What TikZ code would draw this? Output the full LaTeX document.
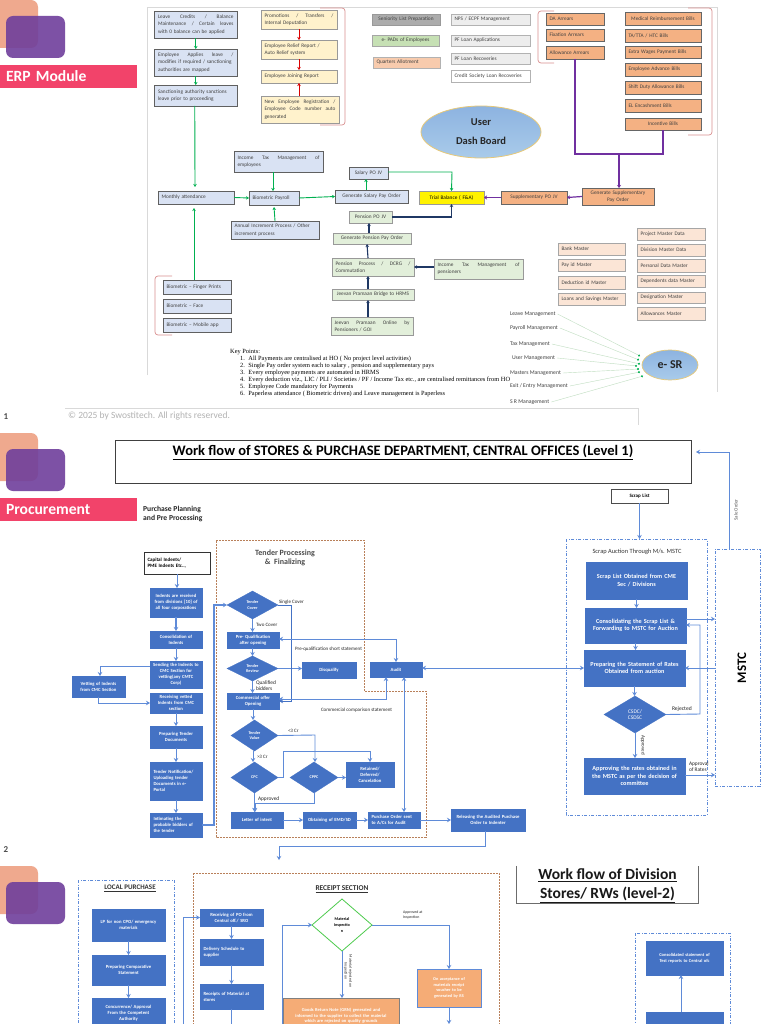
\documentclass[tikz,border=0pt]{standalone}
\usepackage{fontspec}
\setmainfont{Carlito}
\newfontfamily\keyfont{Liberation Serif}
\usetikzlibrary{arrows.meta,shapes.geometric,calc}
\hyphenpenalty=10000
\exhyphenpenalty=10000
\tolerance=9999
\emergencystretch=3em
\hbadness=10000
\hfuzz=40pt
\definecolor{pblue}{HTML}{D9E2F3}
\definecolor{pyel}{HTML}{FFF2CC}
\definecolor{porg}{HTML}{F4B183}
\definecolor{ppeach}{HTML}{F8CBAD}
\definecolor{plpeach}{HTML}{FBE5D6}
\definecolor{pgrn}{HTML}{E2EFDA}
\definecolor{pgrn2}{HTML}{C6E0B4}
\definecolor{pgrey}{HTML}{EDEDED}
\definecolor{fblue}{HTML}{4472C4}
\definecolor{lblue}{HTML}{5F8BD8}
\definecolor{gline}{HTML}{00B050}
\definecolor{pline}{HTML}{7030A0}
\definecolor{nline}{HTML}{1F3864}
\definecolor{brack}{HTML}{D98F8F}
\definecolor{brown}{HTML}{B9805A}
\definecolor{rbar}{HTML}{F2436A}
\definecolor{salm}{HTML}{EFA98E}
\definecolor{purp}{HTML}{6F3F9C}
\definecolor{txt}{HTML}{404040}
\definecolor{elltop}{HTML}{8DB3E0}
\definecolor{ellbot}{HTML}{A9CBEA}
\definecolor{ellbd}{HTML}{E6C878}
\definecolor{esrl}{HTML}{BFDDC0}
\tikzset{
  base/.style={draw,rectangle,inner sep=0pt,outer sep=0pt,font=\fontsize{5.3}{7.2}\selectfont,text=txt,line width=0.9pt},
  pb/.style={base,draw=gray!75!black,fill=pblue},
  py/.style={base,draw=gray!80,fill=pyel},
  po/.style={base,draw=gray!80!black,fill=porg},
  pp/.style={base,draw=gray!70,fill=plpeach},
  pg/.style={base,draw=gray!80,fill=pgrn},
  pe/.style={base,draw=gray!60,fill=pgrey},
  fb/.style={draw=fblue,fill=fblue,rectangle,inner sep=0pt,outer sep=0pt,font=\fontsize{4.7}{5.9}\selectfont\bfseries,text=white,line width=0.3pt,align=center},
  fbs/.style={fb,font=\fontsize{6.2}{7.6}\selectfont\bfseries},
  fd/.style={diamond,draw=fblue,fill=fblue,inner sep=0pt,outer sep=0pt,line width=0.3pt},
  wb/.style={rectangle,draw=black!80,fill=white,inner sep=0pt,outer sep=0pt,line width=0.8pt,font=\fontsize{5}{6.5}\selectfont\bfseries},
  gar/.style={draw=gline,line width=0.9pt,-{Stealth[length=3pt,width=3.5pt]}},
  par/.style={draw=pline,line width=1.2pt},
  nar/.style={draw=nline,line width=1.1pt,-{Stealth[length=3pt,width=3.5pt]}},
  rar/.style={draw=red!85!black,line width=0.9pt,-{Stealth[length=3pt,width=3.5pt]}},
  bar/.style={draw=lblue,line width=0.9pt,-{Stealth[length=4pt,width=4.5pt]}},
  bdbl/.style={draw=lblue,line width=0.9pt,{Stealth[length=4pt,width=4.5pt]}-{Stealth[length=4pt,width=4.5pt]}},
  bln/.style={draw=lblue,line width=0.9pt},
  brk/.style={draw=brack,line width=0.7pt,rounded corners=3pt},
  esr/.style={draw=esrl,line width=0.4pt,-{Circle[length=2pt,width=2pt,fill=gline,color=gline]}},
  dashbrown/.style={draw=brown,dashed,dash pattern=on 2pt off 1pt,line width=0.7pt},
  dashblue/.style={draw=lblue,dashed,dash pattern=on 3pt off 1.5pt on 1pt off 1.5pt,line width=0.6pt},
  lab/.style={inner sep=0pt,outer sep=0pt,font=\fontsize{5}{5.6}\selectfont,text=black!85},
  esl/.style={inner sep=0pt,outer sep=0pt,font=\fontsize{5.7}{6}\selectfont,text=txt,anchor=west},
  tl/.style={inner sep=0pt,outer sep=0pt,text=black!85},
  band/.style={rectangle,fill=rbar,inner sep=0pt,outer sep=0pt,text=white,anchor=west,font=\fontsize{15.6}{18}\selectfont\bfseries},
  ell/.style={ellipse,draw=ellbd,line width=0.8pt,top color=elltop,bottom color=ellbot,inner sep=0pt,text=black!85},
}
\newcommand\bx[7]{%
  \pgfmathsetmacro\tw{#5-#3-7}%
  \node (#1) [#2,minimum width={#5-#3},minimum height={#6-#4},text width=\tw pt] at ({(#3+#5)/2},{(#4+#6)/2}) {#7};}
\newcommand\dm[7]{%
  \node (#1) [fd,#2,minimum width={#5-#3},minimum height={#6-#4},label={[inner sep=0pt,align=center,font=\fontsize{4.2}{5.4}\selectfont\bfseries,text=white]center:#7}] at ({(#3+#5)/2},{(#4+#6)/2}) {};}
\newcommand\logo[1]{%
  \fill[salm,rounded corners=7pt] (-8,#1) rectangle (38,{#1+48});
  \fill[purp,opacity=0.9,rounded corners=7pt] (6,{#1+16}) rectangle (65,{#1+58});}
\begin{document}
\begin{tikzpicture}[x=1pt,y=-1pt]
\useasboundingbox (0,0) rectangle (768,1024);
\clip (0,0) rectangle (768,1024);
\fill[white] (0,0) rectangle (768,1024);

% ---------- panel 1 frame
\draw[gray!30,line width=0.8pt] (147,375) -- (147,7) -- (717,7) -- (717,392);
\draw[gray!30,line width=0.8pt] (65,408) -- (638,408) -- (638,425);
\logo{0}
\node[band,minimum width=137,minimum height=23,text width=132,align=left] (erp) at (0,76.5) {\hspace{3.5pt}ERP Module};
\node[inner sep=0pt,font=\fontsize{9}{10}\selectfont\bfseries,text=black!70] (n1) at (6,417) {1};
\node[inner sep=0pt,anchor=west,font=\fontsize{9.5}{10}\selectfont,text=gray!60] (copy) at (68,416) {© 2025 by Swostitech. All rights reserved.};

% left column
\bx{leave}{pb,align=left}{154.5}{11}{237}{38}{Leave\hfill Credits\hfill /\hfill Balance\\Maintenance\hfill /\hfill Certain\hfill leaves\\with 0 balance can be applied}
\bx{apply}{pb,align=left}{154.5}{49}{237}{76}{Employee\hfill Applies\hfill leave\hfill /\\modifies if required / sanctioning\\authorities are mapped}
\bx{sanct}{pb,align=left}{154.5}{85}{237}{106}{Sanctioning authority sanctions\\leave prior to proceeding}
\bx{month}{pb,align=left}{158}{191}{234}{204}{Monthly attendance}
\bx{bio}{pb,align=left}{249}{191}{299}{205}{Biometric Payroll}
\bx{itax}{pb,align=left}{234}{151}{323}{172}{Income\hfill Tax\hfill Management\hfill of\\employees}
\bx{gensal}{pb,align=center}{335}{190}{408}{203}{Generate Salary Pay Order}
\bx{salpo}{pb,align=center}{349}{167}{388}{179}{Salary PO JV}
\bx{annual}{pb,align=left}{231}{221}{319}{239}{Annual Increment Process / Other\\increment process}
\bx{finger}{pb,align=left}{163}{280}{231}{294}{Biometric -- Finger Prints}
\bx{face}{pb,align=left}{163}{299}{231}{313}{Biometric -- Face}
\bx{mobile}{pb,align=left}{163}{318}{231}{332}{Biometric -- Mobile app}
% promotions
\bx{promo}{py,align=left}{261}{10}{337}{29}{Promotions\hfill /\hfill Transfers\hfill /\\Internal Deputation}
\bx{relief}{py,align=left}{261}{40}{337}{59}{Employee Relief Report /\\Auto Relief system}
\bx{join}{py,align=left}{261}{70}{337}{83}{Employee Joining Report}
\bx{newemp}{py,align=left}{261}{96}{339}{123}{New\hfill Employee\hfill Registration\hfill /\\Employee\hfill Code\hfill number\hfill auto\\generated}
% status
\bx{senior}{base,draw=gray!80,fill=gray!65,align=center}{372}{14}{440}{25}{Seniority List Preparation}
\bx{epad}{base,draw=gray!70,fill=pgrn2,align=center}{372}{35}{439}{46}{e- PADs of Employees}
\bx{quart}{base,draw=gray!60,fill=ppeach,align=left}{373}{57}{440}{68}{Quarters Allotment}
\bx{nps}{pe,align=left}{451}{14}{530}{25}{NPS / ECPF Management}
\bx{pfa}{pe,align=left}{451}{35}{530}{46}{PF Loan Applications}
\bx{pfr}{pe,align=left}{451}{53}{530}{64}{PF Loan Recoveries}
\bx{cred}{pe,fill=white,align=left}{451}{70}{530}{82}{Credit Society Loan Recoveries}
% arrears
\bx{da}{po,align=left}{546}{13}{604}{25}{DA Arrears}
\bx{fix}{po,align=left}{546}{29}{604}{41}{Fixation Arrears}
\bx{allow}{po,align=left}{546}{46}{604}{59}{Allowance Arrears}
\bx{med}{po,align=center}{625}{12}{701}{25}{Medical Reimbursement Bills}
\bx{ta}{po,align=left}{625}{29}{701}{42}{TA/TTA / HTC Bills}
\bx{extra}{po,align=left}{625}{46}{701}{58}{Extra Wages Payment Bills}
\bx{adv}{po,align=left}{625}{63}{701}{76}{Employee Advance Bills}
\bx{shift}{po,align=left}{625}{81}{701}{94}{Shift Duty Allowance Bills}
\bx{el}{po,align=left}{625}{99}{701}{112}{EL Encashment Bills}
\bx{inc}{po,align=center}{625}{118}{701}{130}{Incentive Bills}
% dashboard
\node (dash) [ell,minimum width=120,minimum height=52,align=center,font=\fontsize{10.5}{19}\selectfont\bfseries] at (481,132) {User\\Dash Board};
% payment line
\bx{trial}{base,draw=gray!80,fill=yellow,align=center,text=black}{419}{191}{484}{204}{Trial Balance ( F\&A)}
\bx{suppo}{po,align=center}{501}{191}{567}{204}{Supplementary PO JV}
\bx{genpay}{po,align=center}{582}{188}{654}{205}{Generate Supplementary\\Pay Order}
% pension
\bx{penpo}{pg,align=center}{349}{211}{392}{223}{Pension PO JV}
\bx{genpen}{pg,align=center}{333}{233}{411}{244}{Generate Pension Pay Order}
\bx{penpro}{pg,align=left}{332}{258}{414}{276}{Pension\hfill Process\hfill /\hfill DCRG\hfill /\\Commutation}
\bx{jbridge}{pg,align=center}{332}{289}{414}{300}{Jeevan Pramaan Bridge to HRMS}
\bx{jonline}{pg,align=left}{331}{317}{413}{335}{Jeevan\hfill Pramaan\hfill Online\hfill by\\Pensioners / GOI}
\bx{itpen}{pg,align=left}{434}{259}{523}{279}{Income\hfill Tax\hfill Management\hfill of\\pensioners}
% masters
\bx{bank}{pp,align=left}{558}{243}{625}{255}{Bank Master}
\bx{payid}{pp,align=left}{558}{259}{625}{271}{Pay id Master}
\bx{deduct}{pp,align=left}{558}{276}{625}{289}{Deduction id Master}
\bx{loans}{pp,align=left}{558}{293}{625}{305}{Loans and Savings Master}
\bx{proj}{pp,align=left}{637}{228}{705}{240}{Project Master Data}
\bx{divm}{pp,align=left}{637}{244}{705}{256}{Division Master Data}
\bx{pers}{pp,align=left}{637}{259}{705}{272}{Personal Data Master}
\bx{dep}{pp,align=left}{637}{275}{705}{287}{Dependents data Master}
\bx{desig}{pp,align=left}{637}{292}{705}{303}{Designation Master}
\bx{allm}{pp,align=left}{637}{307}{705}{320}{Allowances Master}
% e-SR
\node (esr) [ell,line width=0.7pt,minimum width=56,minimum height=30,font=\fontsize{12}{14}\selectfont\bfseries] at (670,365) {e- SR};
\node[esl] (l1) at (510,314) {Leave Management};
\node[esl] (l2) at (510,328) {Payroll Management};
\node[esl] (l3) at (510,344) {Tax Management};
\node[esl] (l4) at (512,358) {User Management};
\node[esl] (l5) at (510,373) {Masters Management};
\node[esl] (l6) at (510,386) {Exit / Entry Management};
\node[esl] (l7) at (510,402) {S R Management};
\coordinate (e1) at (640,356);\coordinate (e2) at (639,360);\coordinate (e3) at (640,364);\coordinate (e4) at (637,366);\coordinate (e5) at (639,369);\coordinate (e6) at (640,372);\coordinate (e7) at (643,376);
\foreach \i in {1,...,7} {\draw[esr] ([xshift=2]l\i.east) -- (e\i);}
% key points
\node[inner sep=0pt,anchor=north west,align=left,font=\keyfont\fontsize{6.35}{7}\selectfont,text=black] (kp) at (230,349.5) {Key Points:\\[0pt]
\hspace*{10pt}1.\hspace{3.5pt}All Payments are centralised at HO ( No project level activities)\\
\hspace*{10pt}2.\hspace{3.5pt}Single Pay order system each to salary , pension and supplementary pays\\
\hspace*{10pt}3.\hspace{3.5pt}Every employee payments are automated in HRMS\\
\hspace*{10pt}4.\hspace{3.5pt}Every deduction viz., LIC / PLI / Societies / PF / Income Tax etc., are centralised remittances from HO\\
\hspace*{10pt}5.\hspace{3.5pt}Employee Code mandatory for Payments\\
\hspace*{10pt}6.\hspace{3.5pt}Paperless attendance ( Biometric driven) and Leave management is Paperless};
% connectors panel 1
\draw[gar] (leave.south) -- (apply.north);
\draw[gar] (apply.south) -- (sanct.north);
\coordinate (mt) at (195,187);
\draw[gar] ([xshift=-1]sanct.south) -- (mt);
\draw[gar] (month.east) -- (bio.west);
\draw[gar] ([xshift=-5.5]itax.south) -- ([xshift=-1]bio.north);
\draw[gar] (bio.east) -- (gensal.west);
\draw[gar] ([xshift=-5.5]gensal.north) -- ([xshift=-2.5]salpo.south);
\coordinate (tt) at (452,172);
\draw[gar] (salpo.east |- tt) -- (tt) -- (trial.north);
\coordinate (mb) at (194,208);
\draw[gar] ([xshift=-3]finger.north) -- (mb);
\coordinate (bb) at (274,207);
\draw[gar] (annual.north) -- (bb);
\draw[rar] (promo.south) -- (relief.north);
\draw[rar] (relief.south) -- (join.north);
\draw[rar] ([xshift=-1]newemp.north) -- ([xshift=-1]newemp.north |- join.south);
% purple
\coordinate (pj) at (619,154);
\draw[par] (allow.south) -- (allow.south |- pj) -- (inc.south |- pj) -- (inc.south);
\draw[par,-{Stealth[length=3pt,width=4pt]}] (pj) -- (genpay.north -| pj);
\draw[par,-{Stealth[length=3pt,width=4pt]}] (genpay.west) -- (suppo.east);
\draw[par,-{Stealth[length=3pt,width=4pt]}] (suppo.west) -- (trial.east);
% navy
\draw[nar] (jonline.north -| jbridge.north) ++(-5,0) -- ([xshift=-5]jbridge.south);
\draw[nar] ([xshift=-5]jbridge.north) -- ([xshift=-5]penpro.south);
\draw[nar] ([xshift=-5]penpro.north) -- ([xshift=-5]genpen.south);
\draw[nar] ([xshift=-3]genpen.north) -- ([xshift=-3]genpen.north |- penpo.south);
\draw[nar] ([yshift=0]penpo.east) -- (trial.south |- penpo.east) -- (trial.south);
\draw[nar] (itpen.west |- penpro.east) -- (penpro.east);
% brackets
\draw[brk] (320,8) -- (345,8) -- (345,125) -- (320,125);
\draw[brk] (554,11) -- (538,11) -- (538,63) -- (554,63);
\draw[brk] (688,8) -- (712,8) -- (712,135) -- (688,135);
\draw[brk] (172,276) -- (155,276) -- (155,335) -- (172,335);

% ---------- panel 2
\logo{433}
\node[band,minimum width=137,minimum height=23,text width=132,align=left] (proc) at (0,509.5) {\hspace{3.5pt}Procurement};
\node[inner sep=0pt,font=\fontsize{9}{10}\selectfont\bfseries,text=black!70] (n2) at (6,850) {2};
\node (title) [rectangle,draw=black!75,line width=0.8pt,inner sep=0pt,outer sep=0pt,minimum width=576,minimum height=43] at (403,461.5) {};
\node[inner sep=0pt,font=\fontsize{14.5}{16}\selectfont\bfseries,text=black] (titlet) at (403,452) {\underline{Work flow of STORES \& PURCHASE DEPARTMENT, CENTRAL OFFICES (Level 1)}};
\node[inner sep=0pt,anchor=north west,align=left,font=\fontsize{7.6}{9.2}\selectfont\bfseries,text=black!85] (ppp) at (143,505.5) {Purchase Planning\\and Pre Processing};
% dashed tender box
\draw[dashbrown] (216,540) -- (364,540) -- (364,691) -- (426,691) -- (426,837) -- (216,837) -- cycle;
\node[tl,align=center,font=\fontsize{8}{9.6}\selectfont\bfseries,text=black!70] (tp) at (285,558) {Tender Processing\\\&\ \ Finalizing};
% left chain
\bx{cap}{wb,align=left}{144}{552}{210}{574}{Capital Indents/\\PME Indents Etc..,}
\bx{ind}{fb}{150}{588}{202}{617}{Indents are received\\from divisions [10] of\\all four corporations}
\bx{cons}{fb}{150}{631}{202}{648}{Consolidation of\\Indents}
\bx{send}{fb}{150}{661}{202}{688}{\makebox[\linewidth]{Sending the Indents to}\\CMC Section for\\vetting(any CMTC\\Corp)}
\bx{vet}{fb}{72}{676}{125}{697}{Vetting of Indents\\from CMC Section}
\bx{recv}{fb}{150}{693}{202}{713}{Receiving vetted\\Indents from CMC\\section}
\bx{prep}{fb}{150}{726}{202}{748}{Preparing Tender\\Documents}
\bx{noti}{fb,align=left}{150}{762}{202}{800}{Tender Notification/\\Uploading tender\\Documents in e-\\Portal}
\bx{inti}{fb,align=left}{150}{813}{202}{837}{Intimating the\\probable bidders of\\the tender}
% tender
\dm{tcov}{}{227}{591}{278}{619}{Tender\\Cover}
\bx{preq}{fb}{227}{632}{279}{648}{Pre- Qualification\\after opening}
\dm{trev}{}{227}{656}{278}{681}{Tender\\Review}
\bx{disq}{fb}{302}{662}{356}{678}{Disqualify}
\bx{audit}{fb}{370}{662}{422}{677}{Audit}
\bx{comm}{fb}{227}{693}{279}{709}{Commercial offer\\Opening}
\dm{tval}{}{231}{720}{278}{751}{Tender\\Value}
\dm{cpc}{}{231}{762}{278}{793}{CPC}
\dm{cppc}{}{290}{762}{338}{793}{CPPC}
\bx{ret}{fb}{346}{762}{394}{787}{Retained/\\Deferred/\\Cancelation}
\bx{loi}{fb}{231}{812}{283}{828}{Letter of intent}
\bx{emd}{fb}{303}{812}{356}{828}{Obtaining of EMD/SD}
\bx{po}{fb,align=left}{368}{812}{420}{828}{Purchase Order sent\\to A/Cs for Audit}
\bx{rel}{fb}{451}{809}{525}{831}{Releasing the Audited Purchase\\Order to Indenter}
% scrap
\bx{scrapl}{wb,draw=black!70,align=center,font=\fontsize{5}{6}\selectfont\bfseries}{611}{489}{668}{503}{Scrap List}
\draw[dashblue] (566,539) rectangle (707,815);
\node[tl,font=\fontsize{6.4}{7}\selectfont,text=black!80] (sa) at (637,552) {Scrap Auction Through M/s. MSTC};
\bx{sobt}{fbs}{586}{562}{687}{599}{Scrap List Obtained from CME\\Sec / Divisions}
\bx{scon}{fbs}{585}{608}{686}{643}{Consolidating the Scrap List \&\\Forwarding to MSTC for Auction}
\bx{spre}{fbs}{584}{650}{685}{686}{Preparing the Statement of Rates\\Obtained from auction}
\dm{csdc}{}{604}{696}{666}{733}{\fontsize{5.5}{8}\selectfont\mdseries CSDC/\\\fontsize{5.5}{8}\selectfont\mdseries CSDSC}
\bx{sapp}{fbs}{584}{758}{685}{794}{Approving the rates obtained in\\the MSTC as per the decision of\\committee}
\node (mstc) [rectangle,dashblue,inner sep=0pt,outer sep=0pt,minimum width=45,minimum height=237,fill=white] at (737.5,667.5) {};
\node[tl,rotate=90,font=\fontsize{13}{15}\selectfont\bfseries,text=black] (mstct) at (742,668) {MSTC};
% blue connectors
\draw[bar] (cap.south) -- (cap.south |- ind.north);
\draw[bar,line width=1.5pt] (ind.south) -- (cons.north);
\draw[bar] (cons.south) -- (send.north);
\draw[bln] (send.west |- 0,666) -- (100,666) coordinate (sv);
\draw[bar] (sv) -- (vet.north -| sv);
\coordinate (vr) at (98,703);
\draw[bln] (vet.south -| vr) -- (vr);
\draw[bar] (vr) -- (recv.west);
\draw[bar] (recv.south -| prep.north) -- (prep.north);
\draw[bar] (prep.south) -- (noti.north);
\draw[bar] (noti.south) -- (inti.north);
\coordinate (ic) at (214,825);
\draw[bar,line width=1.1pt] (inti.east |- ic) -- (ic) -- (ic |- tcov.west) -- (tcov.west);
\draw[bar] (tcov.south) -- (preq.north -| tcov.south);
\draw[bar] (preq.south -| tcov.south) -- (trev.north);
\draw[bar] (trev.south) -- (trev.south |- comm.north);
\draw[bar] (trev.east) -- (disq.west |- trev.east);
\coordinate (sc) at (291,605);
\draw[bar,draw=fblue] (tcov.east) -- (sc) -- (sc |- comm.east) -- (comm.east);
\draw[bar] (comm.south) -- (comm.south |- tval.north);
\draw[bar] (comm.south |- tval.south) -- (comm.south |- cpc.north);
\coordinate (vc) at (315,735);
\draw[bar] (tval.east) -- (vc) -- (vc |- cppc.north);
\coordinate (cr1) at (283,751); \coordinate (cr2) at (370,751);
\draw[bar] (cpc.east) -- (cr1 |- cpc.east) -- (cr1) -- (cr2) -- (cr2 |- ret.north);
\draw[bar] (cppc.east) -- (ret.west |- cppc.east);
\coordinate (cl) at (314,803); \coordinate (cl2) at (255,803);
\draw[bar] (cl |- cppc.south) -- (cl) -- (cl2) -- (cl2 |- loi.north);
\draw[bar] (cpc.south) -- (cpc.south |- loi.north);
\draw[bar] (loi.east) -- (emd.west);
\draw[bar] (emd.east) -- (po.west);
\draw[bar] (po.east) -- (rel.west |- po.east);
\draw[bdbl] (404,812) -- (404,677);
\coordinate (a1) at (396,639);
\draw[bdbl] (a1 |- audit.north) -- (a1) -- (preq.east |- a1);
\coordinate (a2) at (386,699);
\draw[bdbl] (a2 |- audit.south) -- (a2) -- (comm.east |- a2);
\draw[bdbl] (audit.east |- 0,668) -- (spre.west |- 0,668);
\coordinate (r1) at (485,846); \coordinate (r2) at (279,846); \coordinate (r3) at (279,860);
\draw[bar] (rel.south -| r1) -- (r1) -- (r2) -- (r3);
% scrap arrows
\draw[bar] (scrapl.south) -- (scrapl.south |- 0,539);
\draw[bar] (sobt.south) -- (sobt.south |- scon.north);
\draw[bar] (scon.south) -- (scon.south |- spre.north);
\draw[bar] (spre.south) -- (spre.south |- csdc.north);
\draw[bar] (csdc.south) -- (csdc.south |- sapp.north);
\coordinate (rj) at (700,714);
\draw[bar] (csdc.east) -- (rj) -- (rj |- 0,625) -- (scon.east |- 0,625);
\draw[bar] (scon.east |- 0,619) -- (mstc.west |- 0,619);
\draw[bar] (mstc.west |- 0,668) -- (spre.east |- 0,668);
\draw[bar] (sapp.east |- 0,775) -- (mstc.west |- 0,775);
\coordinate (so) at (729,452);
\draw[bar] (so |- mstc.north) -- (so) -- (696,452);
% labels
\node[lab,anchor=west] (t1) at (279,602) {Single Cover};
\node[lab,anchor=west] (t2) at (256,625) {Two Cover};
\node[lab,anchor=west] (t3) at (295,649) {Pre-qualification short statement};
\node[lab,anchor=west,align=left,font=\fontsize{5.4}{5.8}\selectfont] (t4) at (256,686) {Qualified\\bidders};
\node[lab,anchor=west] (t5) at (321,710) {Commercial comparison statement};
\node[lab,anchor=west] (t6) at (288,731) {<3 Cr};
\node[lab,anchor=west] (t7) at (257,757) {>3 Cr};
\node[lab,anchor=west,font=\fontsize{5.4}{6}\selectfont] (t8) at (258,799) {Approved};
\node[lab,rotate=90,text=gray!70!black] (t9) at (736,510) {Sale Order};
\node[lab,anchor=west,font=\fontsize{5.6}{6}\selectfont] (t10) at (672,709) {Rejected};
\node[lab,rotate=-90] (t11) at (643,745) {Approved};
\node[lab,anchor=west,align=left,font=\fontsize{5.4}{6.2}\selectfont] (t12) at (689,767) {Approval\\of Rates};

% ---------- panel 3
\logo{866}
\draw[dashblue] (78,880) rectangle (174,1040);
\node[tl,font=\fontsize{7}{8}\selectfont\bfseries,text=black!80] (lp) at (130,888) {\underline{LOCAL PURCHASE}};
\bx{lp1}{fb}{92}{909}{165}{941}{LP for non CPO/ emergency\\materials}
\bx{lp2}{fb}{92}{955}{165}{985}{Preparing Comparative\\Statement}
\bx{lp3}{fb}{92}{998}{165}{1028}{Concurrence/ Approval\\From the Competent\\Authority}
\draw[bar] (lp1.south) -- (lp2.north);
\draw[bar] (lp2.south) -- (lp3.north);
\draw[dashbrown] (193,873) -- (499,873) -- (499,1040);
\draw[dashbrown] (193,873) -- (193,1040);
\node[tl,font=\fontsize{7.4}{8}\selectfont\bfseries,text=black!80] (rs) at (342,889) {\underline{RECEIPT SECTION}};
\bx{rpo}{fb}{200}{909}{263}{926}{Receiving of PO from\\Central off./ SRO}
\bx{dsch}{fb,align=left}{200}{939}{263}{965}{Delivery Schedule to\\supplier}
\bx{rmat}{fb,align=left}{200}{984}{263}{1009}{Receipts of Material at\\stores}
\coordinate (bl) at (183,1030);
\draw[bar] (bl) -- (bl |- rpo.west) -- (rpo.west);
\draw[bar] (rpo.south) -- (dsch.north);
\draw[bar] (dsch.south) -- (rmat.north);
\coordinate (re) at (231.5,1030);
\draw[bln] (rmat.south) -- (re);
\node (mi) [diamond,draw=green!55!gray!90,fill=white,line width=0.8pt,inner sep=0pt,outer sep=0pt,minimum width=60,minimum height=52,label={[inner sep=0pt,align=center,font=\fontsize{4.2}{5.6}\selectfont\bfseries,text=black]center:Material\\Inspectio\\n}] at (342,925) {};
\coordinate (ml) at (282,1030);
\draw[bar] (ml) -- (ml |- mi.west) -- (mi.west);
\bx{acc}{fb,fill=porg!90!orange,draw=lblue,font=\fontsize{4.3}{5.5}\selectfont\bfseries}{417}{969}{481}{1007}{On acceptance of\\materials receipt\\voucher to be\\generated by RS}
\coordinate (mr) at (449,925);
\draw[bar] (mi.east) -- (mr) -- (acc.north -| mr);
\coordinate (ab) at (449,1024);
\draw[bar] (acc.south -| ab) -- (ab);
\bx{grn}{fb,fill=porg!90!orange,draw=gray,font=\fontsize{4.5}{5.5}\selectfont\bfseries,text=white}{283}{998}{399}{1034}{Goods Return Note (GRN) generated and\\informed to the supplier to collect the material\\which are rejected on quality grounds}
\draw[bar] (mi.south) -- (mi.south |- grn.north);
\node[lab,anchor=west,align=left,font=\fontsize{3.9}{4.8}\selectfont] (t13) at (403,915) {Approved at\\Inspection};
\node[lab,rotate=-90,align=center,font=\fontsize{3.9}{4.8}\selectfont] (t14) at (348,971) {Material rejected on\\Inspection};
\node (t2box) [rectangle,inner sep=0pt,minimum width=181,minimum height=37] at (607.5,884.5) {};
\draw[gray!85!black,line width=0.7pt] (t2box.north west) -- (t2box.south west) -- (t2box.south east) -- (t2box.north east);
\node[inner sep=0pt,align=center,font=\fontsize{15.5}{19}\selectfont\bfseries,text=black!90] (t2t) at (607.5,885.5) {\underline{Work flow of Division}\\\underline{Stores/ RWs (level-2)}};
\draw[dashblue] (635,933) rectangle (730,1040);
\bx{csr}{fb,font=\fontsize{4.5}{5.8}\selectfont\bfseries}{646}{941}{723}{975}{Consolidated statement of\\Test reports to Central ofc}
\bx{bot}{fb}{646}{1012}{723}{1032}{}
\draw[bar] (bot.north -| 681,0) -- (csr.south -| 681,0);
\end{tikzpicture}
\end{document}
